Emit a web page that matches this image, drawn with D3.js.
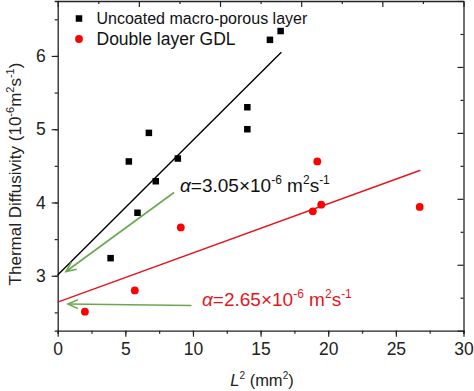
<!DOCTYPE html>
<html>
<head>
<meta charset="utf-8">
<script src="https://cdn.jsdelivr.net/npm/d3@7"></script>
<style>
  body { margin: 0; background: #fff; }
  svg { font-family: Arial, "Liberation Sans", sans-serif; }
</style>
</head>
<body>
<svg id="chart" width="474" height="391"></svg>
<script>
// data
var uncoatedX = [3.91, 5.26, 5.90, 6.74, 7.25, 8.88, 14.02, 14.02, 15.69, 16.48];
var uncoatedY = [3.24, 4.56, 3.86, 4.95, 4.29, 4.60, 5.30, 5.00, 6.22, 6.34];
var doubleX = [2.01, 5.70, 9.10, 18.86, 19.19, 19.48, 26.76];
var doubleY = [2.51, 2.80, 3.66, 3.88, 4.56, 3.97, 3.94];
var uncoatedFit = [[0, 3.01], [16.53, 6.05]];
var doubleFit = [[0, 2.64], [26.81, 4.44]];
var xTicks = [0, 5, 10, 15, 20, 25, 30];
var yTicks = [3, 4, 5, 6];
var legendNames = ["Uncoated macro-porous layer", "Double layer GDL"];

function drawChart() {
  var svg = d3.select("#chart");
  var pLeft = 57.7, pRight = 463.5, pTop = 1, pBottom = 330.7;

  var x = d3.scaleLinear().domain([0, 30]).range([pLeft, pRight]);
  var y = d3.scaleLinear().domain([2.25, 6.75]).range([pBottom, pTop]);
  // the frame axes of the original carry their own 0..10 spacing
  var xTop = d3.scaleLinear().domain([0, 10]).range([pLeft, pRight]);
  var yRight = d3.scaleLinear().domain([0, 10]).range([pBottom, pTop]);

  function styleAxis(g) {
    g.selectAll("path").attr("stroke", "#222").attr("stroke-width", 1.3);
    g.selectAll("line").attr("stroke", "#222").attr("stroke-width", 1.2);
    g.selectAll("text").attr("fill", "#222").style("font-size", "17.5px");
  }

  // bottom axis, majors + minors
  svg.append("g")
      .attr("transform", "translate(0," + pBottom + ")")
      .call(d3.axisBottom(x).tickValues(d3.range(0, 30.01, 2.5)).tickSize(3).tickFormat(""))
      .call(styleAxis);
  svg.append("g")
      .attr("transform", "translate(0," + pBottom + ")")
      .call(d3.axisBottom(x).tickValues(xTicks).tickSize(6).tickPadding(6).tickFormat(d3.format("d")))
      .call(styleAxis)
      .call(g => g.select("path").remove());

  // left axis
  svg.append("g")
      .attr("transform", "translate(" + pLeft + ",0)")
      .call(d3.axisLeft(y).tickValues(d3.range(2.5, 6.76, 0.5)).tickSize(3).tickFormat(""))
      .call(styleAxis);
  svg.append("g")
      .attr("transform", "translate(" + pLeft + ",0)")
      .call(d3.axisLeft(y).tickValues(yTicks).tickSize(6).tickPadding(6).tickFormat(d3.format("d")))
      .call(styleAxis)
      .call(g => g.select("path").remove());

  // top and right frame with inward ticks
  svg.append("g")
      .attr("transform", "translate(0," + pTop + ")")
      .call(d3.axisTop(xTop).ticks(10).tickSizeOuter(0).tickFormat(""))
      .call(styleAxis)
      .call(g => g.selectAll(".tick line").attr("y2", (d) => d % 2 === 0 ? 6 : 3));
  svg.append("g")
      .attr("transform", "translate(" + pRight + ",0)")
      .call(d3.axisRight(yRight).ticks(10).tickSizeOuter(0).tickFormat(""))
      .call(styleAxis)
      .call(g => g.selectAll(".tick line").attr("x2", (d) => d % 2 === 0 ? -6 : -3));

  // axis titles
  var xt = svg.append("text")
      .attr("x", 262).attr("y", 386)
      .attr("text-anchor", "middle")
      .style("font-size", "16.5px").attr("fill", "#222");
  xt.append("tspan").text("L").style("font-style", "italic");
  xt.append("tspan").text("2").attr("dy", -7).style("font-size", "10px");
  xt.append("tspan").text(" (mm").attr("dy", 7);
  xt.append("tspan").text("2").attr("dy", -7).style("font-size", "10px");
  xt.append("tspan").text(")").attr("dy", 7);

  var yt = svg.append("text")
      .attr("transform", "translate(21,174) rotate(-90)")
      .attr("text-anchor", "middle")
      .style("font-size", "17px").attr("fill", "#222");
  yt.append("tspan").text("Thermal Diffusivity (10");
  yt.append("tspan").text("-6").attr("dy", -7).style("font-size", "11px");
  yt.append("tspan").text("m").attr("dy", 7);
  yt.append("tspan").text("2").attr("dy", -7).style("font-size", "11px");
  yt.append("tspan").text("s").attr("dy", 7);
  yt.append("tspan").text("-1").attr("dy", -7).style("font-size", "11px");
  yt.append("tspan").text(")").attr("dy", 7);

  // fit lines
  var line = d3.line().x(d => x(d[0])).y(d => y(d[1]));
  svg.append("path").attr("d", line(uncoatedFit))
      .attr("stroke", "#000").attr("stroke-width", 1.4).attr("fill", "none");
  svg.append("path").attr("d", line(doubleFit))
      .attr("stroke", "#e8141c").attr("stroke-width", 1.4).attr("fill", "none");

  // points
  var sq = 6.5;
  svg.append("g").selectAll("rect")
      .data(d3.zip(uncoatedX, uncoatedY))
      .join("rect")
        .attr("x", d => x(d[0]) - sq / 2)
        .attr("y", d => y(d[1]) - sq / 2)
        .attr("width", sq).attr("height", sq)
        .attr("fill", "#000");
  svg.append("g").selectAll("circle")
      .data(d3.zip(doubleX, doubleY))
      .join("circle")
        .attr("cx", d => x(d[0]))
        .attr("cy", d => y(d[1]))
        .attr("r", 3.9)
        .attr("fill", "#f00");

  // green arrows
  var green = "#6aa84f";
  function arrow(x1, y1, x2, y2) {
    var a = Math.atan2(y2 - y1, x2 - x1), L = 11, w = 0.42;
    svg.append("path")
        .attr("d", d3.line()([[x1, y1], [x2, y2]]))
        .attr("stroke", green).attr("stroke-width", 1.6);
    svg.append("path")
        .attr("d", d3.line()([
          [x2 - L * Math.cos(a - w), y2 - L * Math.sin(a - w)],
          [x2, y2],
          [x2 - L * Math.cos(a + w), y2 - L * Math.sin(a + w)]]))
        .attr("stroke", green).attr("stroke-width", 1.6).attr("fill", "none");
  }
  arrow(174, 192.5, 66, 271.5);
  arrow(191.5, 305.5, 68, 304);

  // annotations
  function note(px, py, mant, color) {
    var t = svg.append("text").attr("x", px).attr("y", py)
        .style("font-size", "19px").attr("fill", color);
    t.append("tspan").text("α").style("font-style", "italic");
    t.append("tspan").text("=" + mant + "×10");
    t.append("tspan").text("-6").attr("dy", -8).style("font-size", "12px");
    t.append("tspan").text(" m").attr("dy", 8);
    t.append("tspan").text("2").attr("dy", -8).style("font-size", "12px");
    t.append("tspan").text("s").attr("dy", 8);
    t.append("tspan").text("-1").attr("dy", -8).style("font-size", "12px");
  }
  note(180, 192, "3.05", "#111");
  note(202, 306, "2.65", "#e8141c");

  // legend
  svg.append("rect").attr("x", 79 - sq / 2).attr("y", 18.5 - sq / 2)
      .attr("width", sq).attr("height", sq).attr("fill", "#000");
  svg.append("text").attr("x", 96.5).attr("y", 24)
      .style("font-size", "16px").attr("fill", "#111").text(legendNames[0]);
  svg.append("circle").attr("cx", 79).attr("cy", 39).attr("r", 3.9).attr("fill", "#f00");
  svg.append("text").attr("x", 96.5).attr("y", 45)
      .style("font-size", "17.5px").attr("fill", "#111").text(legendNames[1]);
}

drawChart();
</script>
</body>
</html>
